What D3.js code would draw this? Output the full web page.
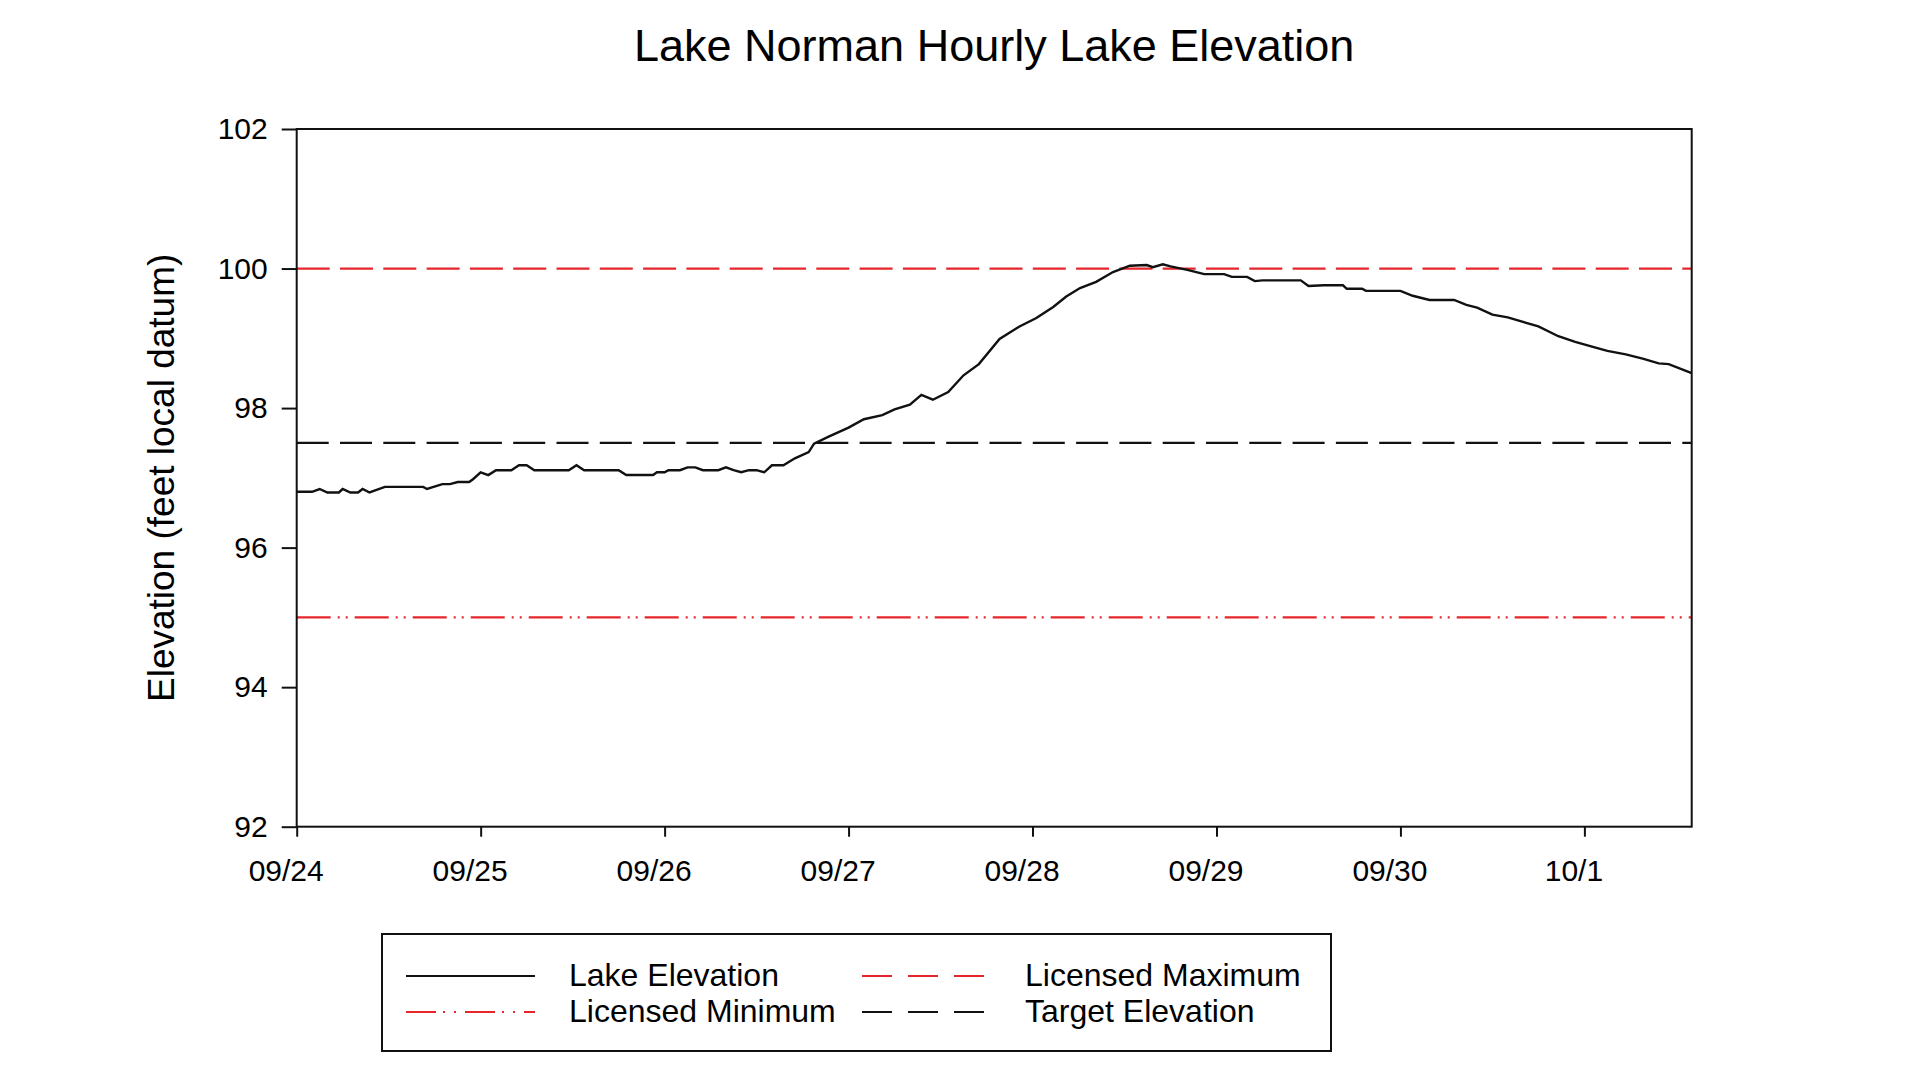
<!DOCTYPE html>
<html>
<head>
<meta charset="utf-8">
<script src="https://cdn.jsdelivr.net/npm/d3@7"></script>
<style>
  body { margin: 0; background: #fff; }
  svg text { font-family: "Liberation Sans", Arial, sans-serif; fill: #000; }
  .axis path, .axis line { stroke: #111; stroke-width: 2; }
</style>
</head>
<body>
<svg id="chart" width="1920" height="1080"></svg>
<script>
// hourly readings, hours counted from 09/24 00:00
const hoursFromStart = [0, 2, 3, 4, 5.5, 6, 7, 8, 8.6, 9.5, 11.5, 16.5, 17, 19, 20, 21, 22.5, 23,
  24, 25, 26, 28, 29, 30, 31, 35.5, 36.5, 37.5, 42, 43, 44.5, 46.5, 47, 48, 48.5, 50, 51, 52, 53,
  55, 56, 57, 58, 59, 60, 61, 62, 63.5, 65, 66.8, 67.5, 69.4, 72, 74, 76.4, 78, 80, 81.5, 83, 85,
  87, 89, 91.7, 94.3, 96.5, 98.7, 100.4, 102.2, 104.3, 106.5, 108.7, 110.9, 111.7, 113, 114, 116.2,
  118.4, 121, 122, 124, 125, 126, 131, 132, 134, 136.5, 137, 139, 139.5, 144, 145.6, 147.8, 151,
  152.6, 154, 156, 158, 162, 164.6, 166.8, 169, 171, 173.4, 175.6, 177.7, 179, 182];
const elevation = [96.80, 96.80, 96.84, 96.79, 96.79, 96.84, 96.79, 96.79, 96.84, 96.79, 96.87, 96.87,
  96.84, 96.91, 96.91, 96.94, 96.94, 96.98, 97.08, 97.04, 97.11, 97.11, 97.18, 97.18, 97.11, 97.11,
  97.18, 97.11, 97.11, 97.04, 97.04, 97.04, 97.08, 97.08, 97.11, 97.11, 97.15, 97.15, 97.11, 97.11,
  97.15, 97.11, 97.08, 97.11, 97.11, 97.08, 97.18, 97.18, 97.28, 97.37, 97.49, 97.59, 97.72, 97.84,
  97.90, 97.98, 98.05, 98.19, 98.12, 98.23, 98.47, 98.63, 98.99, 99.17, 99.29, 99.45, 99.60, 99.72,
  99.81, 99.95, 100.04, 100.05, 100.02, 100.06, 100.03, 99.98, 99.92, 99.92, 99.88, 99.88, 99.82,
  99.83, 99.83, 99.75, 99.76, 99.76, 99.71, 99.71, 99.68, 99.68, 99.61, 99.55, 99.55, 99.48, 99.44,
  99.34, 99.30, 99.17, 99.03, 98.95, 98.88, 98.82, 98.77, 98.71, 98.64, 98.63, 98.50];

const dayLabels = ["09/24", "09/25", "09/26", "09/27", "09/28", "09/29", "09/30", "10/1"];
const yTicks = [92, 94, 96, 98, 100, 102];

const refNames = ["Licensed Maximum", "Target Elevation", "Licensed Minimum"];
const refValues = [100, 97.5, 95];

const startDate = new Date(2013, 8, 24);
const endHour = 182;
const toDate = h => new Date(startDate.getTime() + h * 3600 * 1000);

const red = "#e5262b";
const styles = {
  "Lake Elevation":   { color: "#111", dash: null },
  "Licensed Maximum": { color: red, dash: "33,10.3" },
  "Target Elevation": { color: "#111", dash: "32,11.3" },
  "Licensed Minimum": { color: red, dash: "34,7,2,6,2,7" }
};

const margin = { left: 296.7, top: 129 };
const width = 1395, height = 697.7;

const svg = d3.select("#chart");
const g = svg.append("g").attr("transform", `translate(${margin.left},${margin.top})`);

const x = d3.scaleTime().domain([startDate, toDate(endHour)]).range([0, width]);
const y = d3.scaleLinear().domain([92, 102]).range([height, 0]);

// title
svg.append("text")
  .attr("x", margin.left + width / 2).attr("y", 61)
  .attr("text-anchor", "middle")
  .style("font-size", "45px")
  .text("Lake Norman Hourly Lake Elevation");

// y label
svg.append("text")
  .attr("transform", `translate(174,${margin.top + height / 2}) rotate(-90)`)
  .attr("text-anchor", "middle")
  .style("font-size", "37px")
  .text("Elevation (feet local datum)");

// reference lines
g.selectAll(".ref")
  .data(refNames)
  .enter().append("line")
  .attr("class", "ref")
  .attr("x1", 0).attr("x2", width)
  .attr("y1", (d, i) => y(refValues[i]))
  .attr("y2", (d, i) => y(refValues[i]))
  .attr("stroke", d => styles[d].color)
  .attr("stroke-width", 2.2)
  .attr("stroke-dasharray", d => styles[d].dash);

// lake elevation
const series = hoursFromStart.map((h, i) => ({ date: toDate(h), value: elevation[i] }));
const line = d3.line().x(d => x(d.date)).y(d => y(d.value));
g.append("path")
  .datum(series)
  .attr("d", line)
  .attr("fill", "none")
  .attr("stroke", "#111")
  .attr("stroke-width", 2.4);

// frame
g.append("rect")
  .attr("width", width).attr("height", height)
  .attr("fill", "none").attr("stroke", "#111").attr("stroke-width", 2);

// axes
const yAxis = g.append("g").attr("class", "axis")
  .call(d3.axisLeft(y).tickValues(yTicks).tickSize(15).tickPadding(14).tickFormat(d3.format("d")));
yAxis.select(".domain").remove();
yAxis.selectAll("text").style("font-size", "30px").attr("fill", "#000");

const dayDates = dayLabels.map((d, i) => toDate(i * 24));
const xAxis = g.append("g").attr("class", "axis")
  .attr("transform", `translate(0,${height})`)
  .call(d3.axisBottom(x).tickValues(dayDates).tickSize(10).tickFormat((d, i) => dayLabels[i]));
xAxis.select(".domain").remove();
xAxis.selectAll("text")
  .style("font-size", "30px").attr("fill", "#000")
  .attr("y", 54).attr("dy", 0).attr("dx", -11);

// legend
const legendItems = ["Lake Elevation", "Licensed Maximum", "Licensed Minimum", "Target Elevation"];
const legend = svg.append("g").attr("transform", "translate(382,934)");
legend.append("rect")
  .attr("width", 949).attr("height", 117)
  .attr("fill", "#fff").attr("stroke", "#111").attr("stroke-width", 2);

const lg = legend.selectAll(".item")
  .data(legendItems)
  .enter().append("g")
  .attr("class", "item")
  .attr("transform", (d, i) => `translate(${(i % 2) * 456},${Math.floor(i / 2) * 36})`);

const legendDash = {
  "Lake Elevation": null,
  "Licensed Maximum": "30,16",
  "Target Elevation": "30,16",
  "Licensed Minimum": "30,7,2,9,2,9"
};
lg.append("line")
  .attr("x1", 24).attr("x2", 153)
  .attr("y1", 42).attr("y2", 42)
  .attr("stroke", d => styles[d].color)
  .attr("stroke-width", 2)
  .attr("stroke-dasharray", d => legendDash[d]);

lg.append("text")
  .attr("x", 187).attr("y", 52)
  .style("font-size", "32px")
  .text(d => d);
</script>
</body>
</html>
